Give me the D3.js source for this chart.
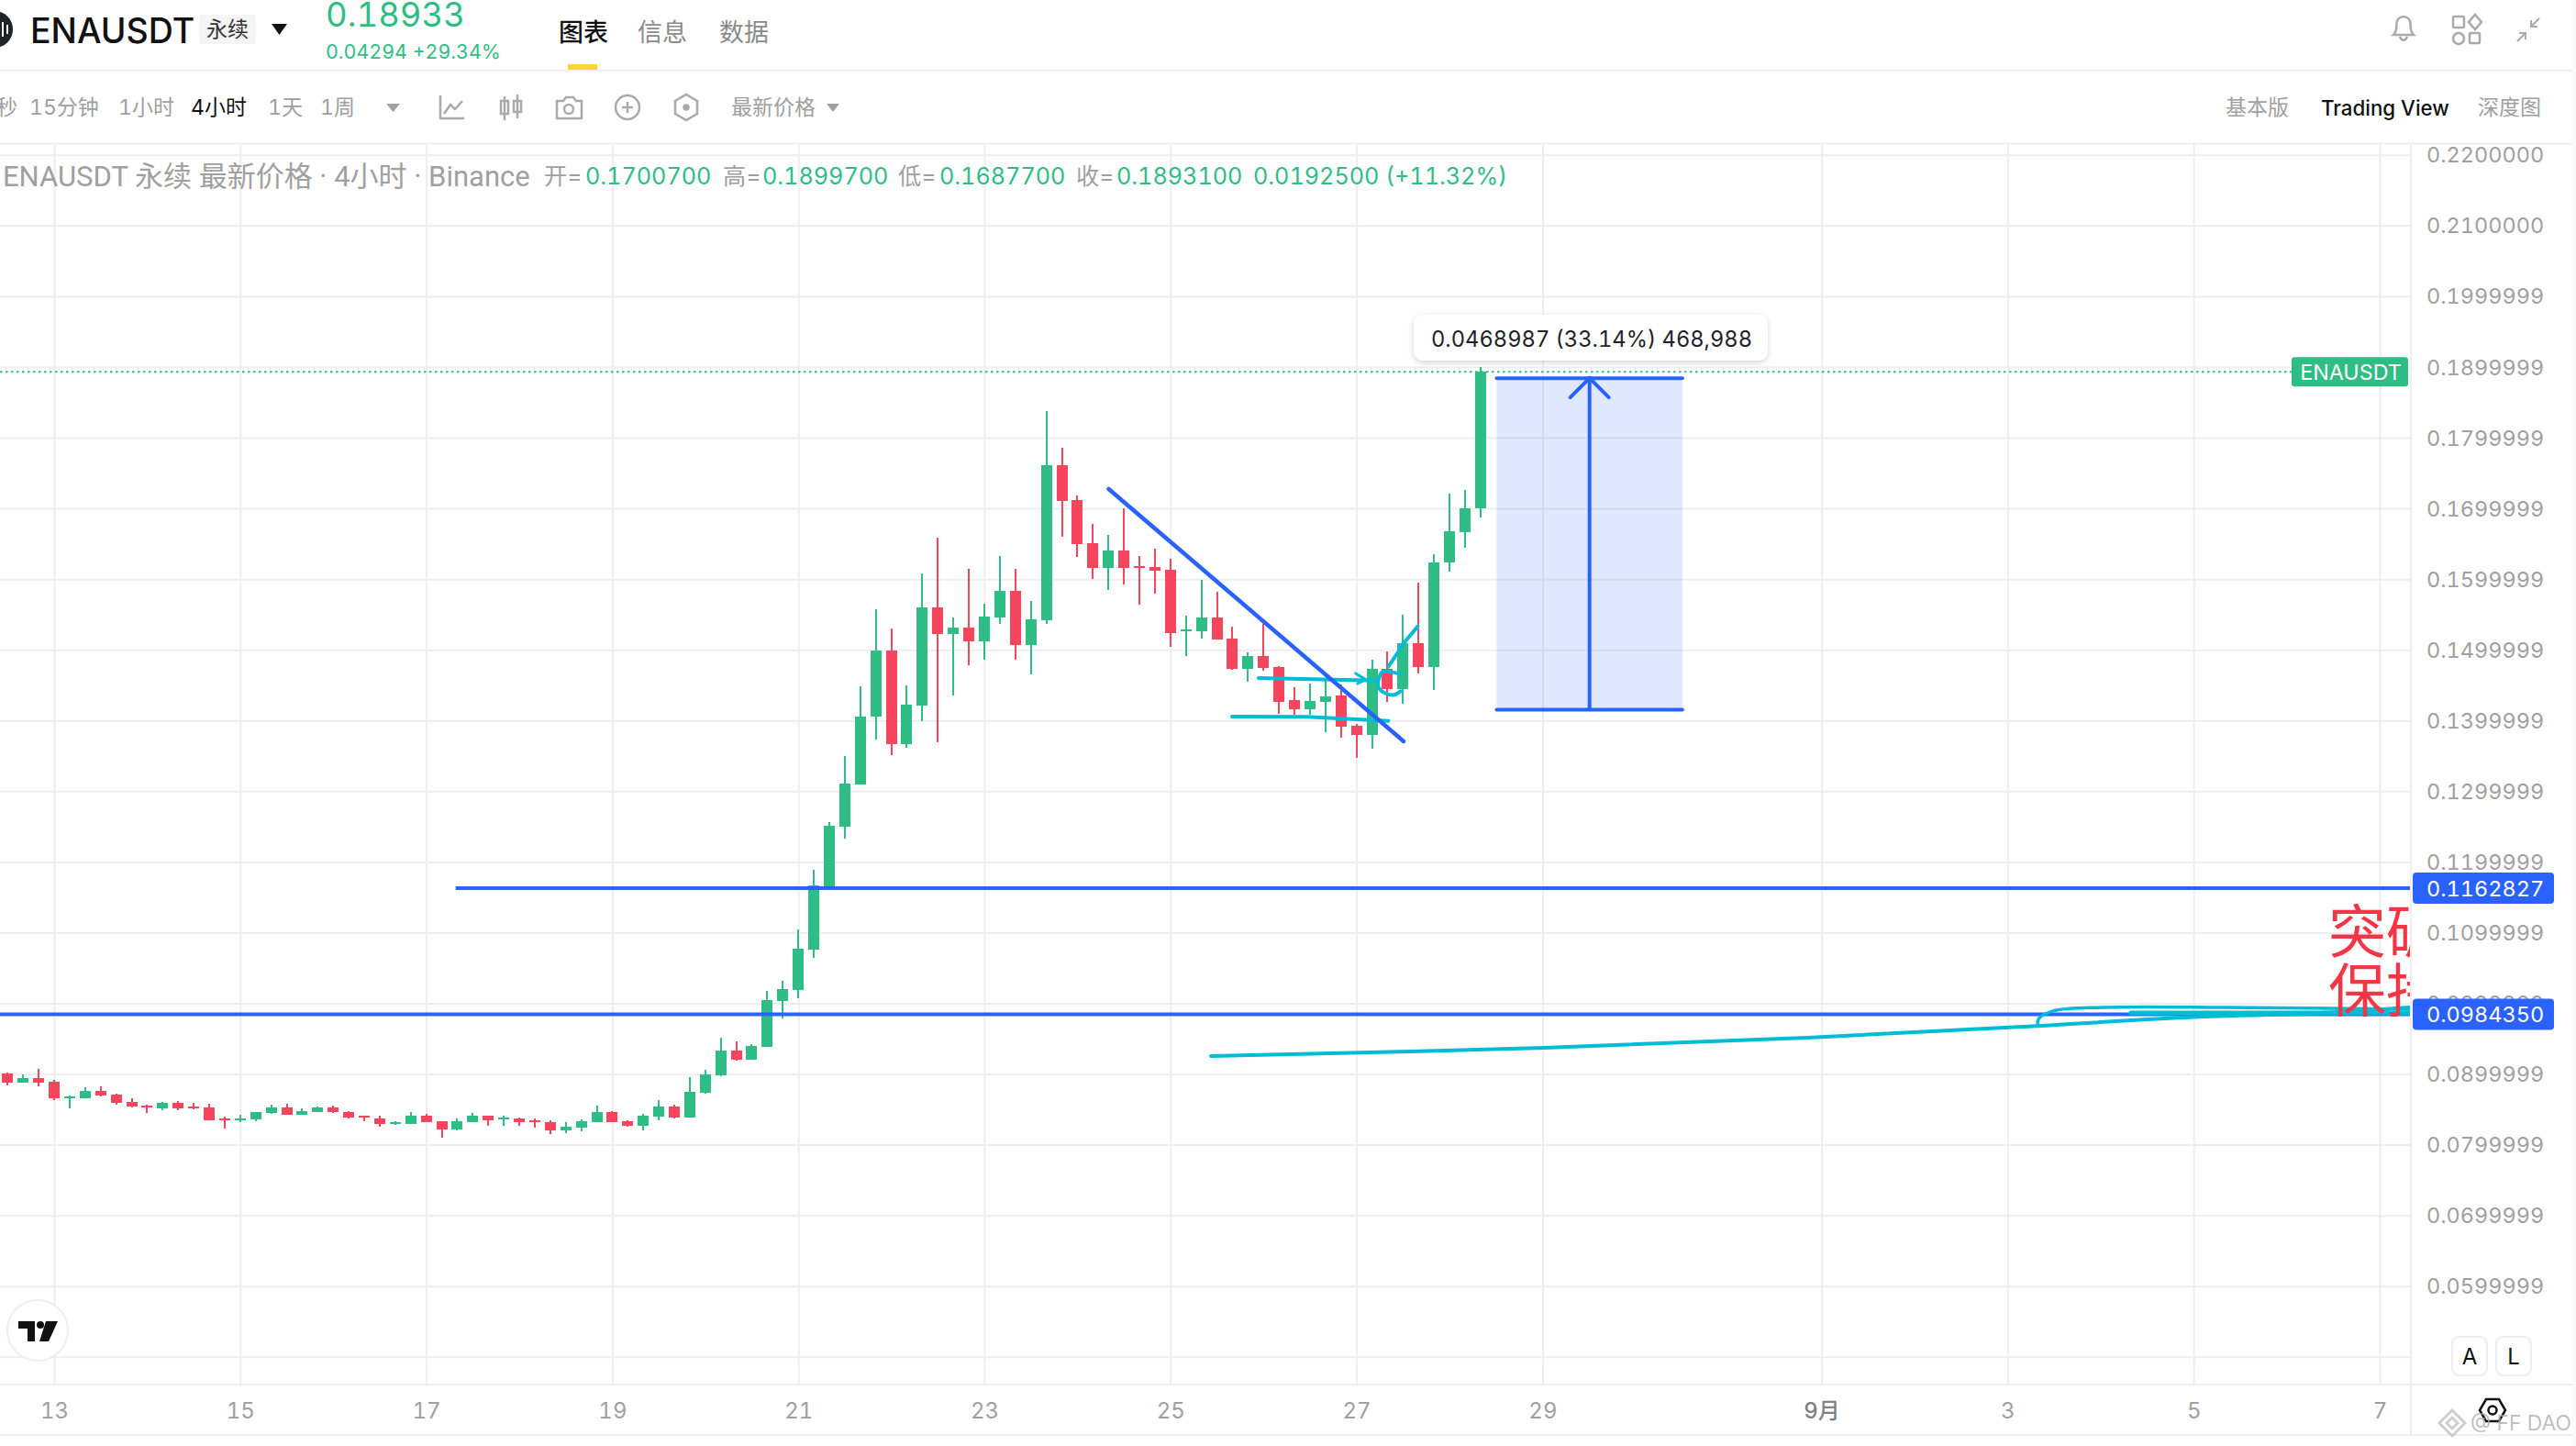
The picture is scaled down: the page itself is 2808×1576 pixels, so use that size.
<!DOCTYPE html>
<html>
<head>
<meta charset="utf-8">
<script src="https://cdn.jsdelivr.net/npm/d3@7"></script>
<style>
  html, body { margin: 0; padding: 0; background: #fff; }
  svg { display: block; font-family: Inter, "Noto Sans CJK SC", sans-serif; font-variant-numeric: tabular-nums; font-feature-settings: "tnum"; }
</style>
</head>
<body>
<svg id="chart" width="2808" height="1576"></svg>
<script>
// 4h candles, first one is Aug 12 12:00 (index -3 from the Aug 13 gridline)
const firstIndex = -3;
const open = [
  .09008, .08878, .08943, .08891, .08657, .08657, .08761, .08709, .08605, .08553,
  .08514, .08592, .08540, .08527, .08372, .08346, .08359, .08450, .08527, .08424,
  .08463, .08527, .08463, .08411, .08372, .08294, .08294, .08411, .08333, .08216,
  .08320, .08411, .08359, .08372, .08346, .08320, .08203, .08242, .08320, .08463,
  .08333, .08268, .08398, .08540, .08385, .08735, .08982, .09332, .09202, .09384,
  .10033, .10189, .10760, .11642, .12499, .13096, .14056, .14990, .13666, .14211,
  .15600, .15224, .15315, .15120, .15457, .15834, .15068, .15418, .17611, .17118,
  .16509, .16158, .16405, .16184, .16171, .16132, .15263, .15263, .15457, .15159,
  .14731, .14912, .14757, .14289, .14159, .14263, .14354, .13926, .13796, .14731,
  .14445, .15094, .14757, .16236, .16665, .17007
];
const high = [
  .09021, .08995, .09072, .08917, .08696, .08813, .08826, .08722, .08657, .08566,
  .08605, .08618, .08592, .08579, .08398, .08424, .08463, .08566, .08579, .08514,
  .08540, .08553, .08476, .08411, .08411, .08333, .08463, .08437, .08333, .08372,
  .08450, .08411, .08411, .08385, .08372, .08346, .08320, .08359, .08553, .08476,
  .08346, .08437, .08631, .08566, .08956, .09059, .09514, .09462, .09423, .10176,
  .10319, .11045, .11889, .12564, .13498, .14484, .15574, .15302, .14497, .16080,
  .16587, .15457, .16145, .15652, .16327, .16145, .15691, .18377, .17858, .17183,
  .16781, .16626, .17001, .16327, .16431, .16288, .15483, .15989, .15821, .15328,
  .14964, .15367, .14770, .14471, .14523, .14562, .14510, .13952, .14860, .14977,
  .15496, .15951, .16353, .17209, .17261, .18997
];
const low = [
  .08839, .08878, .08826, .08631, .08514, .08657, .08683, .08566, .08527, .08450,
  .08489, .08489, .08501, .08346, .08229, .08320, .08333, .08437, .08424, .08424,
  .08463, .08450, .08372, .08333, .08255, .08281, .08294, .08320, .08099, .08203,
  .08320, .08268, .08268, .08268, .08242, .08151, .08164, .08190, .08320, .08320,
  .08255, .08203, .08346, .08372, .08385, .08722, .08969, .09189, .09202, .09384,
  .09787, .10072, .10643, .11603, .12330, .13096, .13731, .13511, .13614, .13991,
  .13692, .14354, .14783, .14860, .15367, .14860, .14653, .15367, .16600, .16314,
  .16002, .15847, .15925, .15639, .15795, .15042, .14912, .15159, .15146, .14718,
  .14549, .14705, .14095, .14082, .14082, .13835, .13757, .13472, .13601, .14263,
  .14237, .14666, .14432, .16106, .16444, .16877
];
const close = [
  .08878, .08943, .08878, .08657, .08683, .08761, .08696, .08592, .08540, .08527,
  .08592, .08514, .08514, .08346, .08346, .08372, .08463, .08527, .08424, .08476,
  .08527, .08463, .08385, .08385, .08294, .08320, .08411, .08320, .08216, .08333,
  .08411, .08346, .08385, .08320, .08320, .08203, .08255, .08333, .08463, .08320,
  .08268, .08411, .08540, .08385, .08748, .08995, .09332, .09202, .09397, .10046,
  .10202, .10773, .11668, .12512, .13109, .14056, .14990, .13666, .14224, .15600,
  .15224, .15315, .15120, .15470, .15834, .15068, .15431, .17611, .17105, .16496,
  .16158, .16405, .16158, .16158, .16119, .15237, .15289, .15457, .15146, .14731,
  .14912, .14744, .14263, .14159, .14276, .14341, .13913, .13796, .14731, .14445,
  .15094, .14757, .16236, .16678, .17001, .18931
];

// axes
const priceTicks = [.22, .21, .20, .19, .18, .17, .16, .15, .14, .13, .12, .11, .10, .09, .08, .07, .06];
const priceTickLabels = ['0.2200000', '0.2100000', '0.1999999', '0.1899999', '0.1799999', '0.1699999',
  '0.1599999', '0.1499999', '0.1399999', '0.1299999', '0.1199999', '0.1099999', '0.0999999',
  '0.0899999', '0.0799999', '0.0699999', '0.0599999'];
const dateTicks = ['2024-08-13', '2024-08-15', '2024-08-17', '2024-08-19', '2024-08-21', '2024-08-23',
  '2024-08-25', '2024-08-27', '2024-08-29', '2024-09-01', '2024-09-03', '2024-09-05', '2024-09-07'];
const dateTickLabels = ['13', '15', '17', '19', '21', '23', '25', '27', '29', '9月', '3', '5', '7'];

// drawings, as [candle index, price]
const trendLine = [[68.02, .17274], [87.04, .13706]];
const tealUpper = [[77.69, .14601], [85.38, .14566]];
const tealLower = [[75.98, .14056], [80.77, .14052], [86.06, .13995]];
const tealTick = [[83.95, .14666], [84.6, .14579], [84.08, .14523]];
const tealLoop = [[86.85, .14653], [86.33, .14683], [85.66, .14683], [85.4, .14484], [85.79, .14393], [86.45, .14364], [86.85, .14415]];
const tealUp = [[86.06, .14761], [87.1, .15107], [87.96, .15332]];
const tealLong = [[74.62, .09254], [96.1, .09371], [113.08, .09514], [126.69, .09666], [138.6, .09812], [145.03, .09851], [151.95, .09942]];
const tealHook = [[127.93, .09700], [128.02, .09787], [128.99, .09894], [132.2, .09942], [140, .09942], [151.95, .09916]];
const tealFlat = [[133.96, .09864], [151.95, .09864]];
const hLevels = [{ price: 0.1162827, from: 25.9, label: '0.1162827' }, { price: 0.0984350, from: -4, label: '0.0984350' }];
const rangeBox = { from: 93.05, to: 105.02, lo: 0.14152, hi: 0.18842 };
const lastPrice = 0.18931;

const GREEN = '#2ebd85', RED = '#f6465d', BLUE = '#2962ff', TEAL = '#00bcd4', GRID = '#eeeeee', GRAY = '#a0a0a0';

const svg = d3.select('#chart');
const plotRight = 2628, plotTop = 157, plotBottom = 1509;

const x = d3.scaleUtc()
  .domain([new Date('2024-08-13T00:00Z'), new Date('2024-09-07T00:00Z')])
  .range([59, 2594]);
const y = d3.scaleLinear().domain([0.22, 0.05]).range([168.8, 1478.8]);
const t0 = Date.UTC(2024, 7, 13);
const xAt = i => x(new Date(t0 + i * 4 * 3600 * 1000));

svg.append('defs').append('clipPath').attr('id', 'plot')
  .append('rect').attr('x', 0).attr('y', plotTop).attr('width', plotRight).attr('height', plotBottom - plotTop);
const shadow = svg.select('defs').append('filter').attr('id', 'soft')
  .attr('x', '-10%').attr('y', '-30%').attr('width', '120%').attr('height', '170%');
shadow.append('feDropShadow').attr('dx', 0).attr('dy', 2).attr('stdDeviation', 3).attr('flood-color', '#000').attr('flood-opacity', 0.18);

function label(parent, px, py, str, color, size, anchor, weight) {
  return parent.append('text')
    .attr('x', px).attr('y', py)
    .attr('dominant-baseline', 'central')
    .attr('text-anchor', anchor || 'start')
    .attr('font-size', size)
    .attr('font-weight', weight || 400)
    .attr('fill', color)
    .text(str);
}

// grid comes from the axes, long ticks and no labels
const gridY = svg.append('g').attr('transform', `translate(${plotRight},0)`)
  .call(d3.axisLeft(y).tickValues(priceTicks.concat([.05])).tickSize(plotRight).tickFormat(''));
const gridX = svg.append('g').attr('transform', `translate(0,${plotBottom})`)
  .call(d3.axisTop(x).tickValues(dateTicks.map(d => new Date(d + 'T00:00Z'))).tickSize(plotBottom - plotTop).tickFormat(''));
[gridY, gridX].forEach(g => {
  g.select('.domain').remove();
  g.selectAll('line').attr('stroke', GRID).attr('stroke-width', 2);
});

const plot = svg.append('g').attr('clip-path', 'url(#plot)');

// dotted last price line
plot.append('line')
  .attr('x1', 0).attr('x2', plotRight).attr('y1', y(lastPrice)).attr('y2', y(lastPrice))
  .attr('stroke', GREEN).attr('stroke-width', 2).attr('stroke-dasharray', '2.5 3.5');

// candles
const candles = open.map((o, i) => ({ i: i + firstIndex, o, h: high[i], l: low[i], c: close[i] }));
const candle = plot.append('g').attr('shape-rendering', 'crispEdges')
  .selectAll('g').data(candles).enter().append('g')
  .attr('fill', d => d.c >= d.o ? GREEN : RED);
candle.append('rect')
  .attr('x', d => Math.round(xAt(d.i)) - 1).attr('width', 2)
  .attr('y', d => y(d.h)).attr('height', d => y(d.l) - y(d.h));
candle.append('rect')
  .attr('x', d => Math.round(xAt(d.i)) - 6).attr('width', 12)
  .attr('y', d => y(Math.max(d.o, d.c))).attr('height', d => Math.max(2, Math.abs(y(d.o) - y(d.c))));

// measuring box
const box = plot.append('g');
const boxX0 = xAt(rangeBox.from), boxX1 = xAt(rangeBox.to), boxMid = (boxX0 + boxX1) / 2;
box.append('rect')
  .attr('x', boxX0).attr('y', y(rangeBox.hi)).attr('width', boxX1 - boxX0).attr('height', y(rangeBox.lo) - y(rangeBox.hi))
  .attr('fill', BLUE).attr('fill-opacity', 0.15);
[rangeBox.hi, rangeBox.lo].forEach(p => {
  box.append('line').attr('x1', boxX0).attr('x2', boxX1).attr('y1', y(p)).attr('y2', y(p))
    .attr('stroke', BLUE).attr('stroke-width', 4).attr('stroke-linecap', 'round');
});
box.append('line').attr('x1', boxMid).attr('x2', boxMid).attr('y1', y(rangeBox.hi)).attr('y2', y(rangeBox.lo))
  .attr('stroke', BLUE).attr('stroke-width', 4);
box.append('path')
  .attr('d', `M${boxMid - 21},${y(rangeBox.hi) + 21}L${boxMid},${y(rangeBox.hi)}L${boxMid + 21},${y(rangeBox.hi) + 21}`)
  .attr('fill', 'none').attr('stroke', BLUE).attr('stroke-width', 4).attr('stroke-linecap', 'round');

// hand drawn lines
const toLine = d3.line().x(d => xAt(d[0])).y(d => y(d[1]));
const toCurve = d3.line().x(d => xAt(d[0])).y(d => y(d[1])).curve(d3.curveCatmullRom);
function stroke(points, color, width, gen) {
  plot.append('path').datum(points).attr('d', gen || toLine)
    .attr('fill', 'none').attr('stroke', color).attr('stroke-width', width)
    .attr('stroke-linecap', 'round').attr('stroke-linejoin', 'round');
}
hLevels.forEach(l => {
  plot.append('line').attr('x1', xAt(l.from)).attr('x2', plotRight).attr('y1', y(l.price)).attr('y2', y(l.price))
    .attr('stroke', BLUE).attr('stroke-width', 4);
});
stroke(tealUpper, TEAL, 4);
stroke(tealLower, TEAL, 4);
stroke(tealTick, TEAL, 3);
stroke(tealLoop, TEAL, 4, toCurve);
stroke(tealUp, TEAL, 4);
stroke(trendLine, BLUE, 4.5);
stroke(tealLong, TEAL, 4, toCurve);
stroke(tealHook, TEAL, 3.5, toCurve);
stroke(tealFlat, TEAL, 5);

label(plot, 2538, 1015, '突破', '#f23645', 63);
label(plot, 2538, 1079, '保持', '#f23645', 63);

// measure tooltip
svg.append('rect').attr('x', 1541).attr('y', 343).attr('width', 386).attr('height', 50).attr('rx', 10)
  .attr('fill', '#fff').attr('filter', 'url(#soft)');
label(svg, 1560, 369, '0.0468987 (33.14%) 468,988', '#1e2329', 23.7);

// frame lines
[[0, 76.7, 2804, 76.7], [0, 156.5, 2804, 156.5], [0, plotBottom, 2804, plotBottom], [0, 1564, 2804, 1564], [plotRight, plotTop, plotRight, 1564]]
  .forEach(l => svg.append('line').attr('x1', l[0]).attr('y1', l[1]).attr('x2', l[2]).attr('y2', l[3]).attr('stroke', GRID).attr('stroke-width', 2));
svg.append('rect').attr('x', 2804).attr('y', 0).attr('width', 4).attr('height', 1576).attr('fill', '#fafafa');

// price axis
const axisY = svg.append('g').attr('transform', `translate(2645,0.5)`)
  .call(d3.axisRight(y).tickValues(priceTicks).tickSize(0).tickPadding(0).tickFormat((d, i) => priceTickLabels[i]));
axisY.select('.domain').remove();
axisY.selectAll('text').attr('font-family', 'Inter').attr('font-size', 23.5).attr('fill', GRAY);

// time axis
const axisX = svg.append('g').attr('transform', `translate(0,1538)`)
  .call(d3.axisBottom(x).tickValues(dateTicks.map(d => new Date(d + 'T00:00Z'))).tickSize(0).tickPadding(0).tickFormat((d, i) => dateTickLabels[i]));
axisX.select('.domain').remove();
axisX.selectAll('text').attr('font-family', 'Inter, "Noto Sans CJK SC"').attr('font-size', 24)
  .attr('fill', (d, i) => dateTickLabels[i] === '9月' ? '#808080' : GRAY)
  .attr('font-weight', (d, i) => dateTickLabels[i] === '9月' ? 500 : 400)
  .attr('dy', '0.35em');

// price tags
hLevels.forEach(l => {
  svg.append('rect').attr('x', 2630).attr('y', y(l.price) - 17).attr('width', 154).attr('height', 34).attr('rx', 4).attr('fill', BLUE);
  label(svg, 2645, y(l.price), l.label, '#fff', 23.5);
});
svg.append('rect').attr('x', 2498).attr('y', y(lastPrice) - 16).attr('width', 127).attr('height', 32).attr('rx', 3).attr('fill', GREEN);
label(svg, 2562.5, y(lastPrice), 'ENAUSDT', '#fff', 23.3, 'middle');

// top bar
svg.append('circle').attr('cx', -6).attr('cy', 32).attr('r', 20).attr('fill', '#1e2329');
svg.append('path').attr('d', 'M3,24v16M8,27v10').attr('stroke', '#fff').attr('stroke-width', 2).attr('fill', 'none');
label(svg, 33, 33, 'ENAUSDT', '#111', 37.5, 'start', 500);
svg.append('rect').attr('x', 217).attr('y', 16).attr('width', 62).attr('height', 32).attr('rx', 4).attr('fill', '#f5f5f5');
label(svg, 248, 32, '永续', '#333', 23, 'middle');
svg.append('path').attr('d', 'M296,26H313L304.5,38Z').attr('fill', '#111');
label(svg, 355, 16, '0.18933', GREEN, 36.5);
label(svg, 355, 56, '0.04294 +29.34%', GREEN, 21.4);
label(svg, 609, 35, '图表', '#111', 27, 'start', 500);
label(svg, 695, 35, '信息', '#8a8a8a', 27);
label(svg, 784, 35, '数据', '#8a8a8a', 27);
svg.append('rect').attr('x', 619).attr('y', 70).attr('width', 32).attr('height', 6).attr('fill', '#fcd535');

// top right icons
const iconGray = '#aaaaaa';
const icons = svg.append('g').attr('fill', 'none').attr('stroke', iconGray).attr('stroke-width', 2.5);
icons.append('path').attr('d', 'M2609,38c4-4,3-8,3.5-13c1-9,14-9,15,0c.5,5,-.5,9,3.5,13ZM2616,40c2,5,6,5,8,0');
icons.append('rect').attr('x', 2674).attr('y', 18).attr('width', 12).attr('height', 12).attr('rx', 1);
icons.append('path').attr('d', 'M2698,16l7,8l-7,8l-7,-8Z');
icons.append('circle').attr('cx', 2680).attr('cy', 42).attr('r', 6);
icons.append('rect').attr('x', 2692).attr('y', 36).attr('width', 11).attr('height', 11).attr('rx', 1);
icons.append('path').attr('d', 'M2759,29l9,-9M2759,22v7h7M2753,36l-9,9M2746,36h7v7').attr('stroke-width', 2);

// toolbar
[[-4, '秒', GRAY], [32, '15分钟', GRAY], [129, '1小时', GRAY], [208, '4小时', '#111'], [292, '1天', GRAY], [349, '1周', GRAY], [797, '最新价格', GRAY]]
  .forEach(t => label(svg, t[0], 117, t[1], t[2], 23));
svg.append('path').attr('d', 'M421,113H436L428.5,122Z').attr('fill', GRAY);
svg.append('path').attr('d', 'M901,113H915L908,122Z').attr('fill', GRAY);
const tools = svg.append('g').attr('fill', 'none').attr('stroke', iconGray).attr('stroke-width', 2.5);
tools.append('path').attr('d', 'M480,104V129H506M484,124l7,-10l5,5l8,-9');
tools.append('path').attr('d', 'M550,105V131M564,103V129M546,110h8v14h-8ZM560,110h8v12h-8Z');
tools.append('path').attr('d', 'M607,110h7l3,-4h8l3,4h6v19h-27Z');
tools.append('circle').attr('cx', 620).attr('cy', 119).attr('r', 5);
tools.append('circle').attr('cx', 684).attr('cy', 117).attr('r', 13);
tools.append('path').attr('d', 'M684,111v12M678,117h12');
tools.append('path').attr('d', 'M748,103l12,7v14l-12,7l-12,-7v-14Z');
tools.append('circle').attr('cx', 748).attr('cy', 117).attr('r', 2.5).attr('fill', iconGray);

label(svg, 2426, 117, '基本版', GRAY, 23);
label(svg, 2530, 117, 'Trading View', '#111', 22.3, 'start', 500);
label(svg, 2701, 117, '深度图', GRAY, 23);

// legend row
label(svg, 3, 192, 'ENAUSDT 永续 最新价格 · 4小时 · Binance', GRAY, 31).attr('font-family', 'Roboto, "Noto Sans CJK SC"');
[[593, '开=', 638, '0.1700700'], [788, '高=', 831, '0.1899700'], [979, '低=', 1024, '0.1687700'], [1173, '收=', 1217, '0.1893100']]
  .forEach(t => {
    label(svg, t[0], 192, t[1], GRAY, 25.2);
    label(svg, t[2], 192, t[3], GREEN, 25.2);
  });
label(svg, 1366, 192, '0.0192500 (+11.32%)', GREEN, 25.2);

// bottom corners
svg.append('circle').attr('cx', 41).attr('cy', 1450).attr('r', 33).attr('fill', '#fff').attr('stroke', GRID).attr('stroke-width', 2);
svg.append('path').attr('d', 'M20,1440H38V1462H30V1448H20ZM50,1440H63L53,1462H43Z').attr('fill', '#111');
svg.append('circle').attr('cx', 44).attr('cy', 1444).attr('r', 4).attr('fill', '#111');
[[2673, 'A'], [2721, 'L']].forEach(b => {
  svg.append('rect').attr('x', b[0]).attr('y', 1457).attr('width', 38).attr('height', 42).attr('rx', 8)
    .attr('fill', '#fff').attr('stroke', GRID).attr('stroke-width', 2);
  label(svg, b[0] + 19, 1478, b[1], '#111', 24, 'middle');
});
svg.append('path').attr('d', 'M2710,1525h14l7,12l-7,12h-14l-7,-12Z').attr('fill', 'none').attr('stroke', '#111').attr('stroke-width', 2.5);
svg.append('circle').attr('cx', 2717).attr('cy', 1537).attr('r', 4.5).attr('fill', 'none').attr('stroke', '#111').attr('stroke-width', 2.5);

// watermark
svg.append('path').attr('d', 'M2673,1537l14,14l-14,14l-14,-14ZM2673,1545l6,6l-6,6l-6,-6Z')
  .attr('fill', 'none').attr('stroke', '#bbbbbb').attr('stroke-width', 3).attr('opacity', 0.7);
label(svg, 2693, 1551, '@ FF DAO', '#aaaaaa', 23).attr('opacity', 0.75);
</script>
</body>
</html>
